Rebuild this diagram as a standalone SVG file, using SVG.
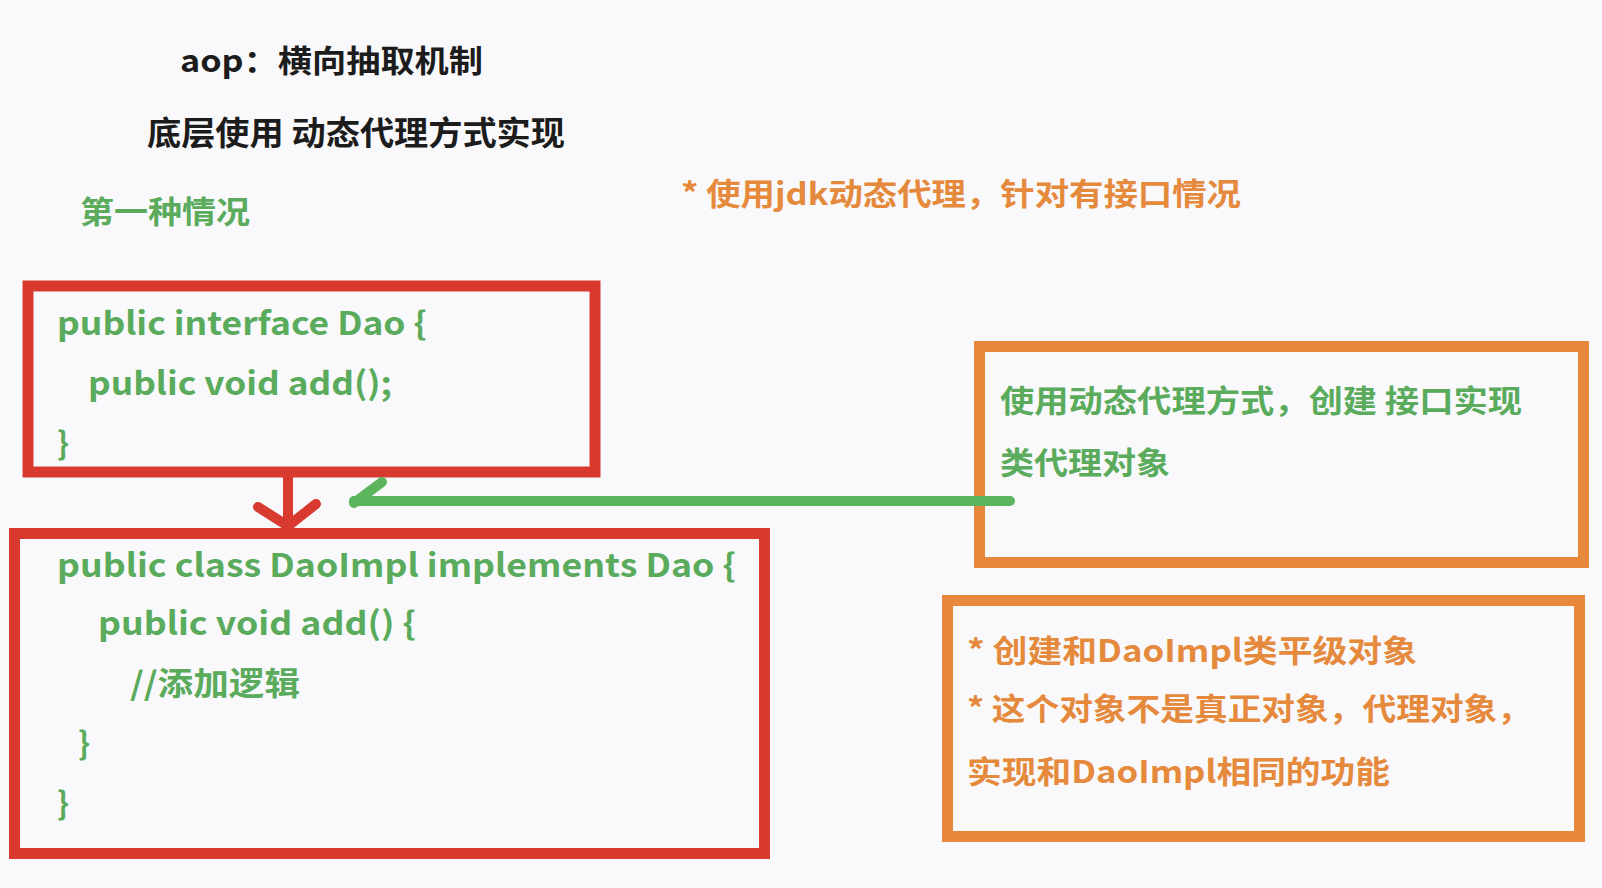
<svg xmlns="http://www.w3.org/2000/svg" width="1602" height="888" viewBox="0 0 1602 888">
<style>
  text { font-family: "Microsoft YaHei", "Noto Sans CJK SC", "Noto Sans", sans-serif; }
  .title { fill: #1c1c1c; font-weight: bold; }
  .green { fill: #5aab5c; font-weight: bold; font-size: 31px; }
  .orange { fill: #e58a3d; font-weight: bold; font-size: 31px; }
  .code { fill: #5aab5c; font-weight: bold; font-size: 32px; }
  .redbox { fill: none; stroke: #d93a2f; stroke-width: 11; }
  .orbox { fill: none; stroke: #e8883a; stroke-width: 11; }
</style>
<rect x="0" y="0" width="1602" height="888" fill="#f9f9fb"/>

<g id="title">
  <text class="title" x="180" y="72" font-size="31" textLength="303" lengthAdjust="spacingAndGlyphs">aop：横向抽取机制</text>
  <text class="title" x="147" y="145" font-size="33" textLength="418" lengthAdjust="spacingAndGlyphs">底层使用 动态代理方式实现</text>
</g>

<g id="case-label">
  <text class="green" x="80" y="223" font-size="32" textLength="170" lengthAdjust="spacingAndGlyphs">第一种情况</text>
</g>

<g id="jdk-note">
  <text class="orange" x="681" y="205" textLength="560" lengthAdjust="spacingAndGlyphs">* 使用jdk动态代理，针对有接口情况</text>
</g>

<g id="interface-node">
  <rect class="redbox" x="28" y="286" width="567" height="186"/>
  <text class="code" x="57" y="335" textLength="370" lengthAdjust="spacingAndGlyphs">public interface Dao {</text>
  <text class="code" x="88" y="395" textLength="304" lengthAdjust="spacingAndGlyphs">public void add();</text>
  <text class="code" x="57" y="455">}</text>
</g>

<g id="impl-node">
  <rect class="redbox" x="14.5" y="533.5" width="750" height="320"/>
  <text class="code" x="57" y="577" textLength="679" lengthAdjust="spacingAndGlyphs">public class DaoImpl implements Dao {</text>
  <text class="code" x="98" y="635" textLength="318" lengthAdjust="spacingAndGlyphs">public void add() {</text>
  <text class="code" x="130" y="695" textLength="170" lengthAdjust="spacingAndGlyphs">//添加逻辑</text>
  <text class="code" x="78" y="755">}</text>
  <text class="code" x="57" y="815">}</text>
</g>

<g id="proxy-node">
  <rect class="orbox" x="979.5" y="346.5" width="604" height="216"/>
  <text class="green" x="1000" y="412" textLength="522" lengthAdjust="spacingAndGlyphs">使用动态代理方式，创建 接口实现</text>
  <text class="green" x="1000" y="474" textLength="170" lengthAdjust="spacingAndGlyphs">类代理对象</text>
</g>

<g id="proxy-note-node">
  <rect class="orbox" x="947.5" y="600.5" width="632" height="236"/>
  <text class="orange" x="967" y="662" textLength="450" lengthAdjust="spacingAndGlyphs">* 创建和DaoImpl类平级对象</text>
  <text class="orange" x="967" y="720" textLength="564" lengthAdjust="spacingAndGlyphs">* 这个对象不是真正对象，代理对象，</text>
  <text class="orange" x="967" y="783" textLength="423" lengthAdjust="spacingAndGlyphs">实现和DaoImpl相同的功能</text>
</g>

<g id="connectors" fill="none" stroke-linecap="round" stroke-linejoin="round">
  <g stroke="#d93a2f" stroke-width="10">
    <line x1="288" y1="477" x2="288" y2="527"/>
    <polyline points="258,507 288,526 316,504"/>
  </g>
  <g stroke="#5cb55c" stroke-width="10">
    <line x1="1010" y1="501" x2="354" y2="501"/>
    <line x1="354" y1="503" x2="382" y2="482"/>
  </g>
</g>
</svg>
